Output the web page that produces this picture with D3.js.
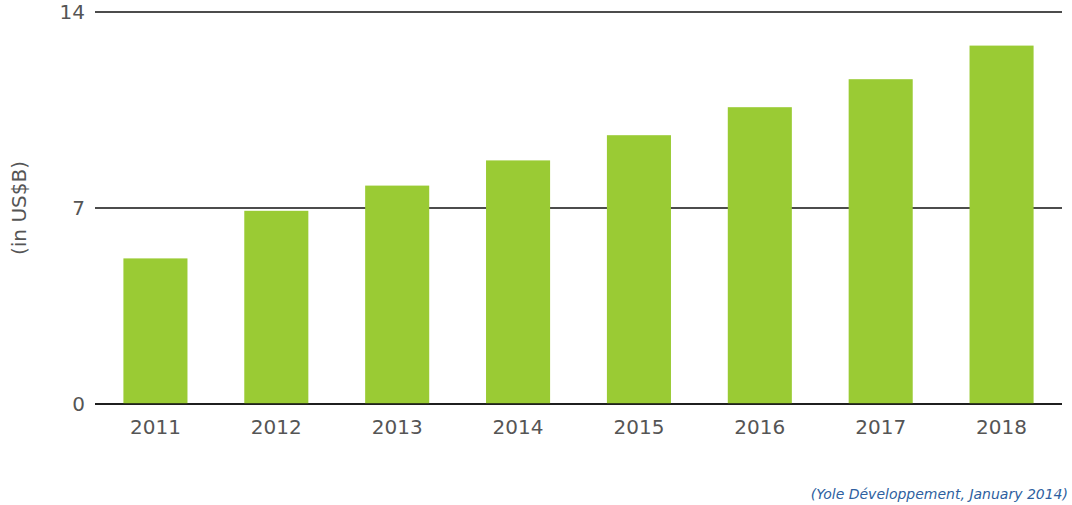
<!DOCTYPE html>
<html><head><meta charset="utf-8">
<script src="https://cdn.jsdelivr.net/npm/d3@7"></script>
<style>body{margin:0;background:#fff}svg{display:block}</style>
</head><body>
<svg id="chart" width="1072" height="505"></svg>
<script>
// values (US$B)
const YEARS  = ["2011","2012","2013","2014","2015","2016","2017","2018"];
const VALUES = [5.2, 6.9, 7.8, 8.7, 9.6, 10.6, 11.6, 12.8];
const Y_TICKS = [0, 7, 14];

const svg = d3.select("#chart");
const font = "DejaVu Sans, Verdana, sans-serif";
const mLeft = 95, mRight = 1062, mTop = 12, mBottom = 404;

const x = d3.scaleBand().domain(YEARS).range([mLeft, mRight]).paddingInner(0.47).paddingOuter(0.235);
const y = d3.scaleLinear().domain([0, 14]).range([mBottom, mTop]);

// gridlines
svg.append("g").selectAll("line").data(Y_TICKS).join("line")
  .attr("x1", mLeft).attr("x2", mRight)
  .attr("y1", d => y(d)).attr("y2", d => y(d))
  .attr("stroke", "#111").attr("stroke-width", 1.5);

svg.append("g").selectAll("rect").data(VALUES).join("rect")
  .attr("x", (d, i) => x(YEARS[i])).attr("width", x.bandwidth())
  .attr("y", d => y(d)).attr("height", d => y(0) - y(d))
  .attr("fill", "#9acb34");

// baseline on top of bars
svg.append("line").attr("x1", mLeft).attr("x2", mRight)
  .attr("y1", y(0)).attr("y2", y(0)).attr("stroke", "#111").attr("stroke-width", 1.5);

svg.append("g").selectAll("text").data(Y_TICKS).join("text")
  .attr("x", mLeft - 10).attr("y", d => y(d)).attr("dy", "0.35em")
  .attr("text-anchor", "end").attr("font-family", font).attr("font-size", 20)
  .attr("fill", "#555").text(d => d);

svg.append("g").selectAll("text").data(YEARS).join("text")
  .attr("x", d => x(d) + x.bandwidth() / 2).attr("y", mBottom + 30)
  .attr("text-anchor", "middle").attr("font-family", font).attr("font-size", 20)
  .attr("fill", "#555").text(d => d);

svg.append("text").attr("transform", "translate(26,208) rotate(-90)")
  .attr("text-anchor", "middle").attr("font-family", font).attr("font-size", 20)
  .attr("fill", "#555").text("(in US$B)");

svg.append("text").attr("x", 1068).attr("y", 499)
  .attr("text-anchor", "end").attr("font-family", font).attr("font-size", 14)
  .attr("font-style", "italic").attr("fill", "#2e5fa0")
  .text("(Yole Développement, January 2014)");
</script>
</body></html>
